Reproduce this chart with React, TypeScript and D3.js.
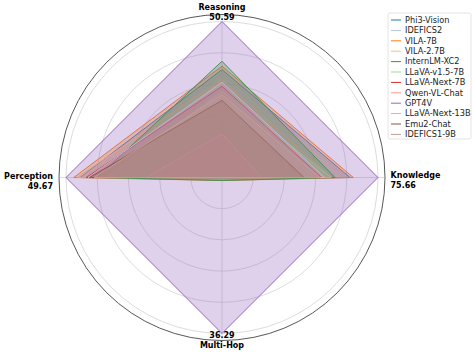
import { useEffect, useRef } from "react";
import * as d3 from "d3";

// axes, clockwise from the top
const axes = ["Reasoning", "Knowledge", "Multi-Hop", "Perception"];
const axisMax = [50.59, 75.66, 36.29, 49.67];

const models = [
  "Phi3-Vision",
  "IDEFICS2",
  "VILA-7B",
  "VILA-2.7B",
  "InternLM-XC2",
  "LLaVA-v1.5-7B",
  "LLaVA-Next-7B",
  "Qwen-VL-Chat",
  "GPT4V",
  "LLaVA-Next-13B",
  "Emu2-Chat",
  "IDEFICS1-9B",
];

// scores per model: Reasoning, Knowledge, Multi-Hop, Perception
const scores = [
  [35.0, 62.1, 0.4, 45.2],
  [33.9, 60.5, 0.4, 43.7],
  [36.1, 63.7, 0.7, 47.2],
  [31.8, 53.0, 0.4, 46.2],
  [37.7, 54.8, 0.7, 39.7],
  [28.0, 53.0, 0.0, 36.8],
  [29.6, 48.3, 0.0, 43.2],
  [14.2, 19.2, 0.0, 24.0],
  [50.59, 75.66, 36.29, 49.67],
  [30.9, 49.9, 0.0, 42.7],
  [25.0, 39.8, 0.0, 42.2],
  [26.9, 47.5, 0.0, 40.7],
];

const colors = [
  "#1f77b4", "#aec7e8", "#ff7f0e", "#ffbb78", "#2ca02c", "#98df8a",
  "#d62728", "#ff9896", "#9467bd", "#c5b0d5", "#8c564b", "#c49c94",
];

const gridLevels = [0.2, 0.4, 0.6, 0.8, 1.0];

export default function App() {
  const svgRef = useRef<SVGSVGElement | null>(null);

  useEffect(() => {
    if (!svgRef.current) return;
    const root = d3.select(svgRef.current);
    root.selectAll("*").remove();

    const width = 474;
    const height = 353;
    const cx = 222;
    const cy = 177.5;
    const font = "DejaVu Sans, sans-serif";

    const r = d3.scaleLinear().domain([0, 1.045]).range([0, 163]);
    const angle = (i: number) => (i * 2 * Math.PI) / axes.length;

    root.attr("width", width).attr("height", height);
    const g = root.append("g").attr("transform", `translate(${cx},${cy})`);

    // grid circles
    g.selectAll(".grid")
      .data(gridLevels)
      .enter()
      .append("circle")
      .attr("r", (d) => r(d))
      .attr("fill", "none")
      .attr("stroke", "#d3d3d3")
      .attr("stroke-width", 0.8);

    // spokes
    g.selectAll(".spoke")
      .data(axes)
      .enter()
      .append("line")
      .attr("x1", 0)
      .attr("y1", 0)
      .attr("x2", (d, i) => r(1.045) * Math.sin(angle(i)))
      .attr("y2", (d, i) => -r(1.045) * Math.cos(angle(i)))
      .attr("stroke", "#d3d3d3")
      .attr("stroke-width", 0.8);

    // outer spine
    g.append("circle")
      .attr("r", r(1.045))
      .attr("fill", "none")
      .attr("stroke", "#444")
      .attr("stroke-width", 0.9);

    const line = d3
      .lineRadial<number>()
      .angle((d, i) => angle(i))
      .radius((d, i) => r(d / axisMax[i]))
      .curve(d3.curveLinearClosed);

    models.forEach((m, k) => {
      g.append("path")
        .attr("d", line(scores[k]) as string)
        .attr("fill", colors[k])
        .attr("fill-opacity", 0.3)
        .attr("stroke", "none");
      g.append("path")
        .attr("d", line(scores[k]) as string)
        .attr("fill", "none")
        .attr("stroke", colors[k])
        .attr("stroke-width", 1);
    });

    // axis labels
    const labels = [
      { x: cx, y: 10, anchor: "middle", lines: [axes[0], axisMax[0].toFixed(2)] },
      { x: 390.5, y: 178, anchor: "start", lines: [axes[1], axisMax[1].toFixed(2)] },
      { x: cx, y: 337.5, anchor: "middle", lines: [axisMax[2].toFixed(2), axes[2]] },
      { x: 53, y: 178.5, anchor: "end", lines: [axes[3], axisMax[3].toFixed(2)] },
    ];
    labels.forEach((l) => {
      const t = root
        .append("text")
        .attr("text-anchor", l.anchor)
        .attr("font-family", font)
        .attr("font-weight", "bold")
        .attr("font-size", "8px")
        .attr("fill", "#000");
      l.lines.forEach((s, i) => {
        t.append("tspan").attr("x", l.x).attr("y", l.y + i * 10).text(s);
      });
    });

    // legend
    const legend = root.append("g").attr("transform", "translate(388,13)");
    legend
      .append("rect")
      .attr("width", 83)
      .attr("height", 126)
      .attr("rx", 2)
      .attr("fill", "#fff")
      .attr("fill-opacity", 0.8)
      .attr("stroke", "#ddd")
      .attr("stroke-width", 0.8);

    const items = legend
      .selectAll(".item")
      .data(models)
      .enter()
      .append("g")
      .attr("transform", (d, i) => `translate(3, ${7 + i * 10.4})`);

    items
      .append("line")
      .attr("x1", 0)
      .attr("x2", 10)
      .attr("stroke", (d, i) => colors[i])
      .attr("stroke-width", 1);

    items
      .append("text")
      .attr("x", 14)
      .attr("dy", "0.35em")
      .attr("font-family", font)
      .attr("font-size", "8.2px")
      .attr("fill", "#222")
      .text((d) => d);
  }, []);

  return (
    <svg
      ref={svgRef}
      style={{ position: "absolute", left: 0, top: 0, background: "#fff" }}
    />
  );
}
